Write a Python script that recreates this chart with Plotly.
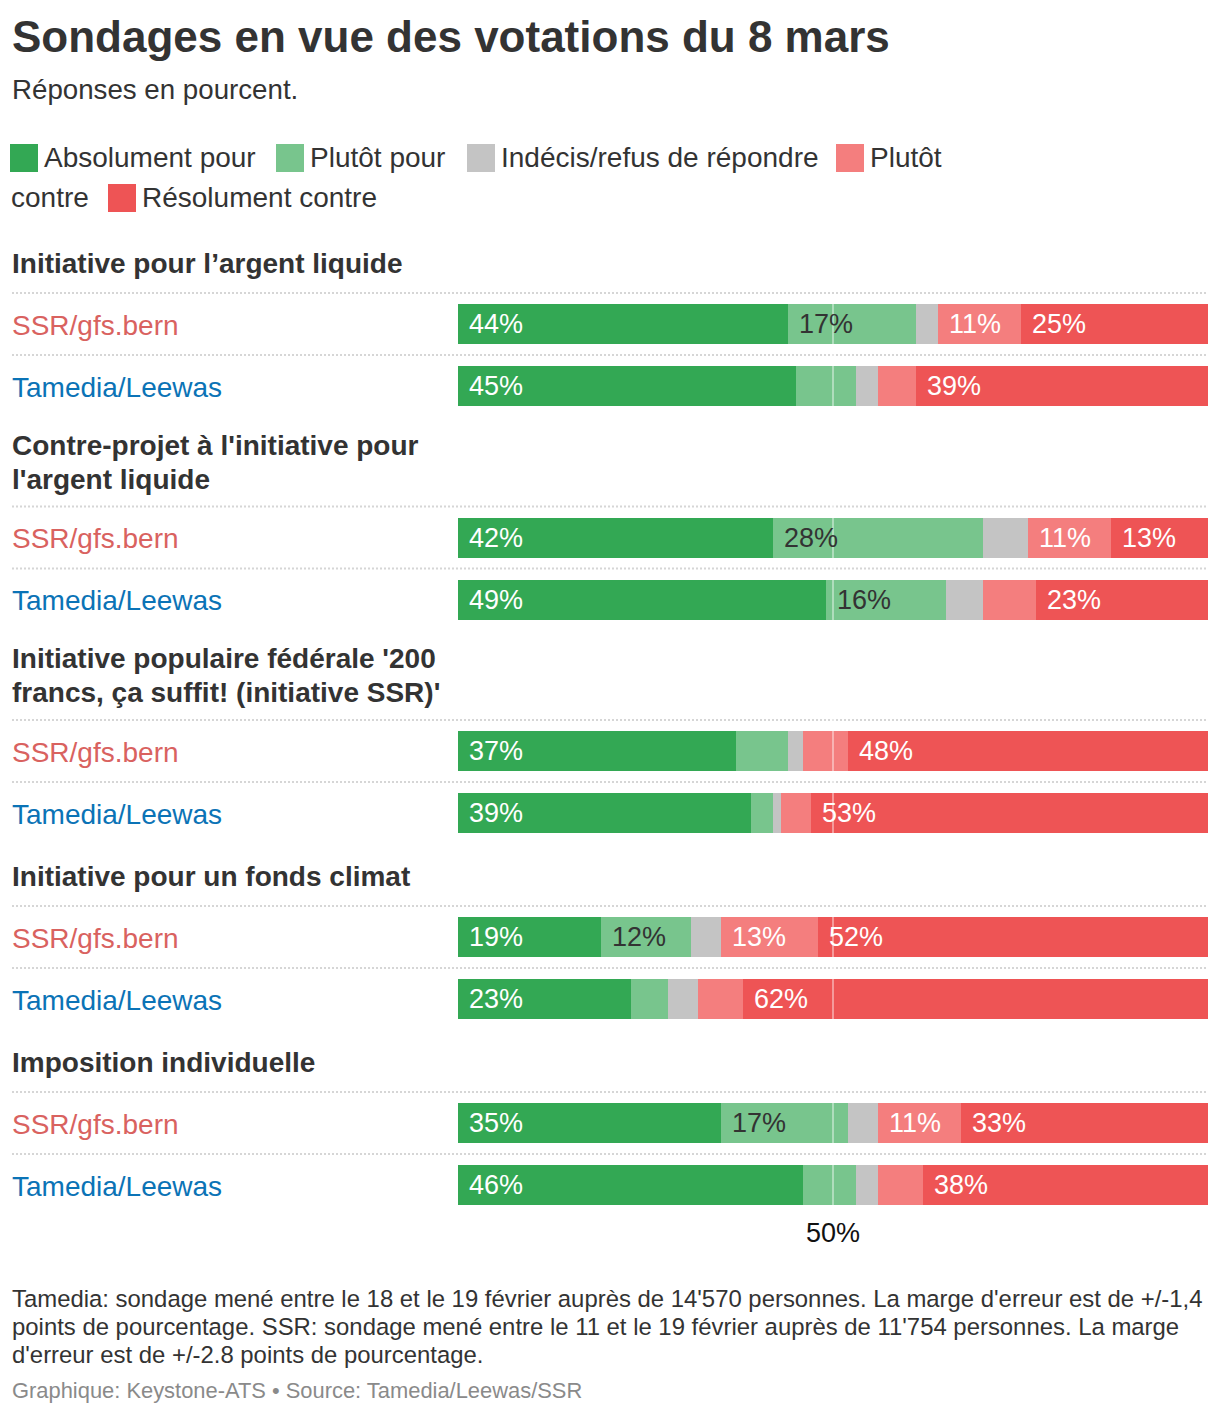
import plotly.graph_objects as go

W, H = 1220, 1414
FONT = "Liberation Sans, Arial, Helvetica, sans-serif"

# ---------------- data ----------------
categories = ["Absolument pour", "Plutôt pour", "Indécis/refus de répondre",
              "Plutôt contre", "Résolument contre"]
questions = [
    ["Initiative pour l’argent liquide"],
    ["Contre-projet à l'initiative pour", "l'argent liquide"],
    ["Initiative populaire fédérale '200", "francs, ça suffit! (initiative SSR)'"],
    ["Initiative pour un fonds climat"],
    ["Imposition individuelle"],
]
institutes = ["SSR/gfs.bern", "Tamedia/Leewas"]

# one value per row: (question 1 SSR, question 1 Tamedia, question 2 SSR, ...)
absolument_pour = [44, 45, 42, 49, 37, 39, 19, 23, 35, 46]
plutot_pour = [17, 8, 28, 16, 7, 3, 12, 5, 17, 7]
indecis = [3, 3, 6, 5, 2, 1, 4, 4, 4, 3]
plutot_contre = [11, 5, 11, 7, 6, 4, 13, 6, 11, 6]
resolument_contre = [25, 39, 13, 23, 48, 53, 52, 62, 33, 38]
series = [absolument_pour, plutot_pour, indecis, plutot_contre, resolument_contre]

title = "Sondages en vue des votations du 8 mars"
subtitle = "Réponses en pourcent."
footnote_lines = [
    "Tamedia: sondage mené entre le 18 et le 19 février auprès de 14'570 personnes. La marge d'erreur est de +/-1,4",
    "points de pourcentage. SSR: sondage mené entre le 11 et le 19 février auprès de 11'754 personnes. La marge",
    "d'erreur est de +/-2.8 points de pourcentage.",
]
source = "Graphique: Keystone-ATS • Source: Tamedia/Leewas/SSR"
mid_tick = 50

# ---------------- styles ----------------
colors = ["#33a854", "#78c58d", "#c4c4c4", "#f47e7e", "#ee5455"]
label_colors = ["#ffffff", "#333333", "#333333", "#ffffff", "#ffffff"]
institute_colors = ["#d9625f", "#0b73b6"]
TXT = "#333333"

# ---------------- layout (pixel positions) ----------------
y = 231
bar_centers, dotted, heading_lines, row_labels = [], [], [], []
for q in questions:
    if len(q) == 1:
        heading_lines.append((q[0], y + 32))
        y += 62
    else:
        heading_lines.append((q[0], y + 28))
        heading_lines.append((q[1], y + 62))
        y += 89.5
    for k in range(2):
        dotted.append(y)
        bar_centers.append(y + 31)
        row_labels.append((institutes[k], institute_colors[k], y + 31))
        y += 62

fig = go.Figure()
for cat, vals, col in zip(categories, series, colors):
    fig.add_trace(go.Bar(
        x=vals, y=bar_centers, orientation="h", name=cat,
        marker=dict(color=col, line=dict(width=0)), width=40,
        showlegend=False, hoverinfo="x+name",
    ))

ann = []
shapes = []

def px(xp):
    return xp / W

# bar value labels
for i, yc in enumerate(bar_centers):
    start = 0
    for s, vals in enumerate(series):
        v = vals[i]
        if v >= 10:
            ann.append(dict(x=start, y=yc, xref="x", yref="y", text=f"{v}%",
                            xanchor="left", yanchor="middle", xshift=9, showarrow=False,
                            font=dict(family=FONT, size=27, color=label_colors[s])))
        start += v

# headings
for text, yc in heading_lines:
    ann.append(dict(x=px(10), y=yc, xref="paper", yref="y", text=f"<b>{text}</b>",
                    xanchor="left", yanchor="middle", showarrow=False,
                    font=dict(family=FONT, size=28, color=TXT)))
# row labels
for text, col, yc in row_labels:
    ann.append(dict(x=px(9.5), y=yc + 1, xref="paper", yref="y", text=text,
                    xanchor="left", yanchor="middle", showarrow=False,
                    font=dict(family=FONT, size=28, color=col)))
# dotted separators
for yd in dotted:
    shapes.append(dict(type="line", xref="paper", yref="y", x0=px(12), x1=px(1208),
                       y0=yd, y1=yd, line=dict(color="#d6d6d6", width=2, dash="2px,2px")))
# 50% reference line across bars
shapes.append(dict(type="line", xref="x", yref="y", x0=mid_tick, x1=mid_tick,
                   y0=bar_centers[0] - 20, y1=bar_centers[-1] + 20, layer="above",
                   line=dict(color="rgba(255,255,255,0.55)", width=1.5)))
ann.append(dict(x=mid_tick, y=1233, xref="x", yref="y", text=f"{mid_tick}%",
                xanchor="center", yanchor="middle", showarrow=False,
                font=dict(family=FONT, size=27, color="#111111")))

# title / subtitle
ann.append(dict(x=px(9.5), y=36, xref="paper", yref="y", text=f"<b>{title}</b>",
                xanchor="left", yanchor="middle", showarrow=False,
                font=dict(family=FONT, size=44, color=TXT)))
ann.append(dict(x=px(9.5), y=89, xref="paper", yref="y", text=subtitle,
                xanchor="left", yanchor="middle", showarrow=False,
                font=dict(family=FONT, size=27.7, color=TXT)))

# legend (custom, wrapped like the reference)
legend_items = [
    (10, 158, colors[0], categories[0]),
    (276, 158, colors[1], categories[1]),
    (467, 158, colors[2], categories[2]),
    (836, 158, colors[3], "Plutôt"),
    (108, 198, colors[4], categories[4]),
]
for xs, yc, col, text in legend_items:
    shapes.append(dict(type="rect", xref="paper", yref="y", x0=px(xs), x1=px(xs + 28),
                       y0=yc - 14, y1=yc + 14, fillcolor=col, line=dict(width=0)))
    ann.append(dict(x=px(xs + 32), y=yc - 1, xref="paper", yref="y", text=text,
                    xanchor="left", yanchor="middle", showarrow=False,
                    font=dict(family=FONT, size=28, color=TXT)))
ann.append(dict(x=px(9), y=197, xref="paper", yref="y", text="contre",
                xanchor="left", yanchor="middle", showarrow=False,
                font=dict(family=FONT, size=28, color=TXT)))

# footnote and source
for k, line in enumerate(footnote_lines):
    ann.append(dict(x=px(9.5), y=1298 + 28 * k, xref="paper", yref="y", text=line,
                    xanchor="left", yanchor="middle", showarrow=False,
                    font=dict(family=FONT, size=23.9, color=TXT)))
ann.append(dict(x=px(9.5), y=1390, xref="paper", yref="y", text=source,
                xanchor="left", yanchor="middle", showarrow=False,
                font=dict(family=FONT, size=21.9, color="#8a8a8a")))

fig.update_layout(
    width=W, height=H, margin=dict(l=0, r=0, t=0, b=0),
    paper_bgcolor="white", plot_bgcolor="white",
    barmode="stack", bargap=0,
    xaxis=dict(domain=[458 / W, 1208 / W], range=[0, 100], visible=False, fixedrange=True),
    yaxis=dict(domain=[0, 1], range=[H, 0], visible=False, fixedrange=True),
    annotations=ann, shapes=shapes, showlegend=False,
    font=dict(family=FONT),
)

fig.write_html("out.html")
